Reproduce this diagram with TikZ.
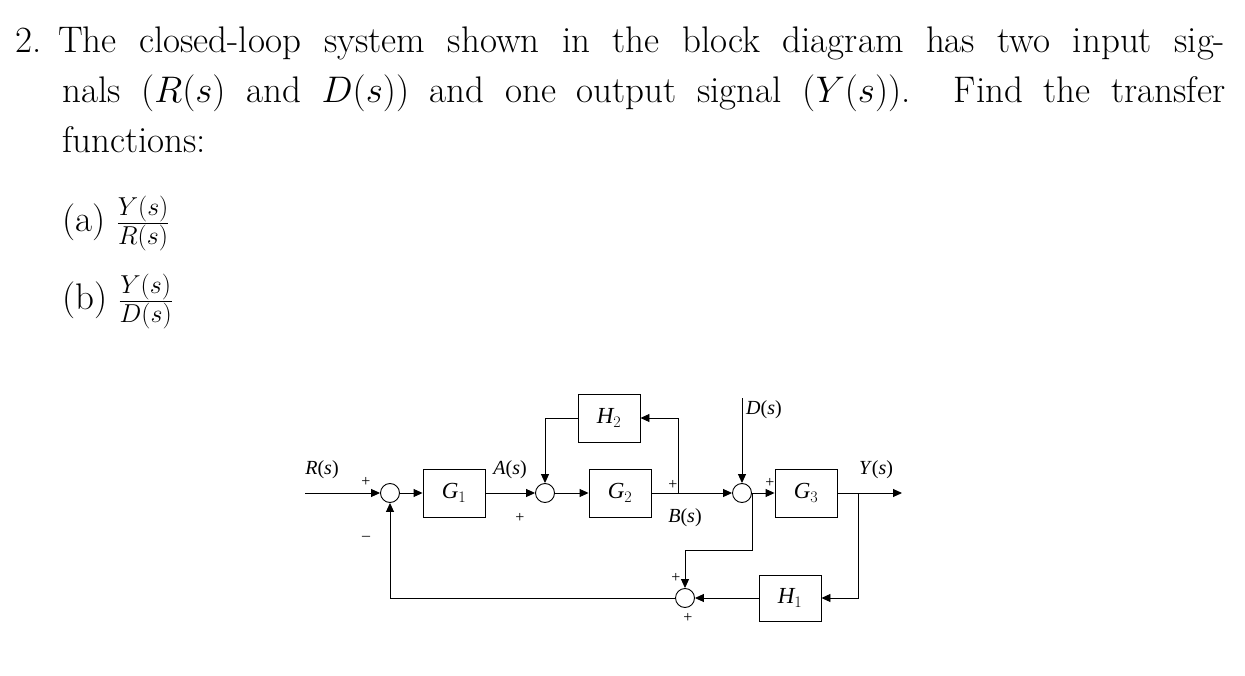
\documentclass[tikz,border=0pt]{standalone}
\usepackage{anyfontsize}
\usepackage{fontspec}
\newfontfamily\tms{Liberation Serif}
\usetikzlibrary{arrows.meta}
\begin{document}
\begin{tikzpicture}[x=1pt,y=-1pt,
  blk/.style={draw,line width=0.9pt,minimum width=62pt,minimum height=48pt,font=\tms\fontsize{23}{26}\selectfont\itshape},
  sm/.style={draw,circle,line width=0.9pt,minimum size=19pt,inner sep=0pt},
  lab/.style={font=\tms\fontsize{20}{22}\selectfont},
  sg/.style={font=\tms\fontsize{16}{18}\selectfont},
  w/.style={line width=0.9pt},
  a/.style={w,-{Triangle[length=9pt,width=8pt]}},
  txt/.style={anchor=base west,inner sep=0pt,font=\fontsize{37}{44}\selectfont}]
\useasboundingbox (0,0) rectangle (1245,676);
\node[txt] (l1) at (15,53) {\makebox[1210pt][s]{2.\hspace{0.45em}The closed-loop system shown in the block diagram has two input sig-}};
\node[txt] (l2) at (62,103) {\makebox[1163pt][s]{nals ($R(s)$ and $D(s)$) and one output signal ($Y(s)$). Find the transfer}};
\node[txt] (l3) at (62,153) {functions:};
\node[txt] (la) at (62,232) {(a) $\frac{Y(s)}{R(s)}$};
\node[txt] (lb) at (62,310) {(b) $\frac{Y(s)}{D(s)}$};
% blocks
\node[sm] (s1) at (390,493) {};
\node[blk] (g1) at (454,493) {G$_1$};
\node[sm] (s2) at (545,493) {};
\node[blk] (g2) at (620,493) {G$_2$};
\node[blk] (h2) at (609,418) {H$_2$};
\node[sm] (s3) at (742,493) {};
\node[blk] (g3) at (806,493) {G$_3$};
\node[blk,minimum height=46pt] (h1) at (790,598) {H$_1$};
\node[sm] (s4) at (685,598) {};
\coordinate (rin) at (305,493);
\coordinate (yout) at (902,493);
\coordinate (b) at (678,493);
\coordinate (din) at (742,398);
\coordinate (yb) at (858,493);
\coordinate (cb) at (752,493);
% connectors
\draw[a] (rin) -- (s1);
\draw[a] (s1) -- (g1);
\draw[a] (g1) -- (s2);
\draw[a] (s2) -- (g2);
\draw[a] (g2) -- (s3);
\draw[a] (s3) -- (g3);
\draw[a] (g3) -- (yout);
\draw[a] (b) |- (h2);
\draw[a] (h2) -| (s2);
\draw[a] (din) -- (s3);
\draw[a] (yb) |- (h1);
\draw[a] (h1) -- (s4);
\draw[a] (cb) -- (752,550) -| (s4);
\draw[a] (s4) -| (s1);
% labels
\node[lab] (rl) at (322,470) {\itshape R\/\upshape(\itshape s\/\upshape)};
\node[lab] (al) at (510,470) {\itshape A\/\upshape(\itshape s\/\upshape)};
\node[lab] (bl) at (685,518) {\itshape B\/\upshape(\itshape s\/\upshape)};
\node[lab] (dl) at (764,410) {\itshape D\/\upshape(\itshape s\/\upshape)};
\node[lab] (yl) at (876,470) {\itshape Y\/\upshape(\itshape s\/\upshape)};
\node[sg] (p1) at (366,482) {+};
\node[sg] (m1) at (366,538) {\textendash};
\node[sg] (p2) at (520,518) {+};
\node[sg] (p3) at (673,485) {+};
\node[sg] (p3b) at (770,483) {+};
\node[sg] (p4) at (676,578) {+};
\node[sg] (p4b) at (688,618) {+};
\end{tikzpicture}
\end{document}
